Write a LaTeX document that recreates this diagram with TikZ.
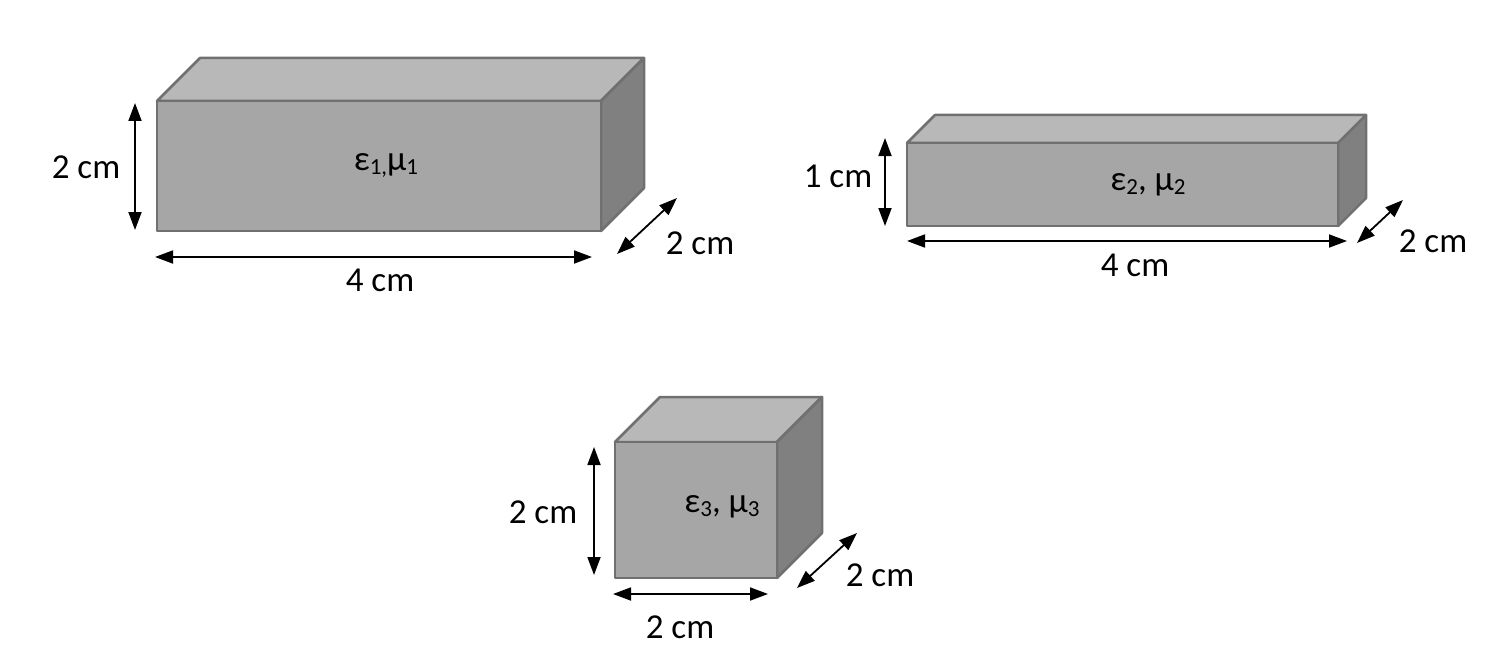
\documentclass[tikz,border=0pt]{standalone}
\usepackage{fontspec}
\setmainfont{Carlito}
\usetikzlibrary{arrows.meta}
\definecolor{topc}{RGB}{184,184,184}
\definecolor{frontc}{RGB}{166,166,166}
\definecolor{sidec}{RGB}{128,128,128}
\definecolor{edgec}{RGB}{112,112,112}
\begin{document}
\begin{tikzpicture}[x=1pt,y=-1pt,
  face/.style={draw=edgec,line width=2.5pt,line join=round},
  dim/.style={{Triangle[length=18pt,width=13pt]}-{Triangle[length=18pt,width=13pt]},line width=1.8pt},
  lbl/.style={font=\fontsize{35}{38}\selectfont,inner sep=0pt}]
\newcommand{\mysub}[1]{\raisebox{-4pt}{\fontsize{23}{23}\selectfont #1}}
\useasboundingbox (0,0) rectangle (1488,658);
\newcommand{\cuboid}[5]{%
  \draw[face,fill=topc] (#1,#2) -- ++(#5,-#5) -- (#3+#5,#2-#5) -- (#3,#2) -- cycle;
  \draw[face,fill=sidec] (#3,#2) -- (#3+#5,#2-#5) -- (#3+#5,#4-#5) -- (#3,#4) -- cycle;
  \draw[face,fill=frontc] (#1,#2) rectangle (#3,#4);}
\cuboid{157}{101}{601}{231}{43}
\cuboid{907}{143}{1338}{226}{28}
\cuboid{615}{442}{777}{578}{45}
% box 1
\coordinate (a1) at (135,103); \coordinate (a2) at (135,230);
\coordinate (b1) at (155,257); \coordinate (b2) at (592,257);
\coordinate (c1) at (617,254); \coordinate (c2) at (677,198);
\draw[dim] (a1) -- (a2); \draw[dim] (b1) -- (b2); \draw[dim] (c1) -- (c2);
\node[lbl] (l1) at (86,167) {2 cm};
\node[lbl] (l2) at (380,280) {4 cm};
\node[lbl] (l3) at (700,243) {2 cm};
\node[lbl] (m1) at (386,165) {ε\mysub{1,}μ\mysub{1}};
% box 2
\coordinate (d1) at (885,138); \coordinate (d2) at (885,226);
\coordinate (e1) at (907,241); \coordinate (e2) at (1347,241);
\coordinate (f1) at (1357,243); \coordinate (f2) at (1403,200);
\draw[dim] (d1) -- (d2); \draw[dim] (e1) -- (e2); \draw[dim] (f1) -- (f2);
\node[lbl] (l4) at (838,176) {1 cm};
\node[lbl] (l5) at (1135,265) {4 cm};
\node[lbl] (l6) at (1433,241) {2 cm};
\node[lbl] (m2) at (1148,185) {ε\mysub{2}, μ\mysub{2}};
% box 3
\coordinate (g1) at (594,447); \coordinate (g2) at (594,575);
\coordinate (h1) at (613,594); \coordinate (h2) at (768,594);
\coordinate (i1) at (797,588); \coordinate (i2) at (857,533);
\draw[dim] (g1) -- (g2); \draw[dim] (h1) -- (h2); \draw[dim] (i1) -- (i2);
\node[lbl] (l7) at (543,512) {2 cm};
\node[lbl] (l8) at (680,627) {2 cm};
\node[lbl] (l9) at (880,575) {2 cm};
\node[lbl] (m3) at (722,507) {ε\mysub{3}, μ\mysub{3}};
\end{tikzpicture}
\end{document}
